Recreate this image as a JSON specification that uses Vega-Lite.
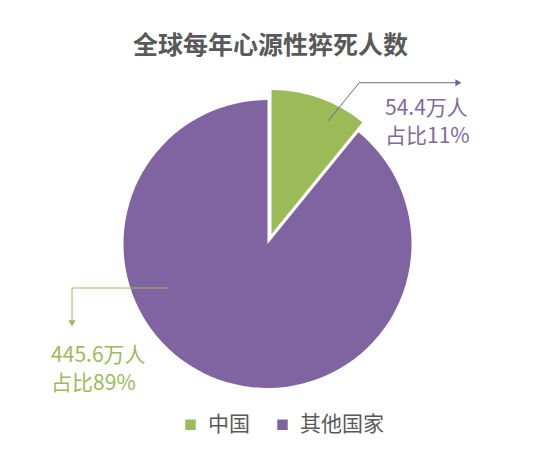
{
  "$schema": "https://vega.github.io/schema/vega-lite/v6.json",
  "width": 535,
  "height": 432,
  "autosize": {"type": "none"},
  "padding": {"top": 28, "left": 0, "right": 0, "bottom": 0},
  "background": "white",
  "title": {
    "text": "全球每年心源性猝死人数",
    "font": "Noto Sans CJK SC",
    "fontSize": 25,
    "fontWeight": "bold",
    "color": "#595959",
    "anchor": "middle",
    "dx": 3,
    "offset": -31
  },
  "config": {"view": {"stroke": null}, "font": "Noto Sans CJK SC"},
  "data": {
    "values": [
      {"name": "中国", "value": 54.4},
      {"name": "其他国家", "value": 445.6}
    ]
  },
  "layer": [
    {
      "mark": {"type": "arc", "radius": 144},
      "encoding": {
        "theta": {"field": "value", "type": "quantitative", "stack": true},
        "order": {"field": "value", "sort": "ascending"},
        "color": {
          "field": "name",
          "type": "nominal",
          "scale": {"domain": ["中国", "其他国家"], "range": ["#9BBB59", "#8064A2"]},
          "legend": {
            "title": null,
            "orient": "none",
            "direction": "horizontal",
            "legendX": 180,
            "legendY": 386,
            "symbolType": "square",
            "symbolSize": 110,
            "symbolStrokeWidth": 0,
            "symbolOpacity": 1,
            "labelFont": "Noto Sans CJK SC",
            "labelFontSize": 21,
            "labelColor": "#595959",
            "labelOffset": 7,
            "columnPadding": 22
          }
        },
        "fillOpacity": {"condition": {"test": "datum.name === '中国'", "value": 0}, "value": 1}
      }
    },
    {
      "mark": {"type": "arc", "radius": 144, "xOffset": 4, "yOffset": -10},
      "encoding": {
        "theta": {"field": "value", "type": "quantitative", "stack": true},
        "order": {"field": "value", "sort": "ascending"},
        "color": {"field": "name", "type": "nominal"},
        "fillOpacity": {"condition": {"test": "datum.name === '其他国家'", "value": 0}, "value": 1}
      }
    },
    {
      "data": {"values": [{}]},
      "mark": {"type": "rule", "color": "#6E6490", "strokeWidth": 1},
      "encoding": {
        "x": {"datum": 0.422, "type": "quantitative", "scale": {"domain": [-1.858, 1.858], "nice": false, "zero": false}, "axis": null},
        "y": {"datum": 0.856, "type": "quantitative", "scale": {"domain": [-1.5, 1.5], "nice": false, "zero": false}, "axis": null},
        "x2": {"datum": 0.6375},
        "y2": {"datum": 1.12}
      }
    },
    {
      "data": {"values": [{}]},
      "mark": {"type": "rule", "color": "#6E6490", "strokeWidth": 1},
      "encoding": {
        "x": {"datum": 0.6375, "type": "quantitative", "scale": {"domain": [-1.858, 1.858], "nice": false, "zero": false}, "axis": null},
        "y": {"datum": 1.12, "type": "quantitative", "scale": {"domain": [-1.5, 1.5], "nice": false, "zero": false}, "axis": null},
        "x2": {"datum": 1.31},
        "y2": {"datum": 1.12}
      }
    },
    {
      "data": {"values": [{}]},
      "mark": {"type": "point", "shape": "triangle-right", "filled": true, "size": 50, "color": "#6E6490", "opacity": 1},
      "encoding": {
        "x": {"datum": 1.326, "type": "quantitative", "scale": {"domain": [-1.858, 1.858], "nice": false, "zero": false}, "axis": null},
        "y": {"datum": 1.12, "type": "quantitative", "scale": {"domain": [-1.5, 1.5], "nice": false, "zero": false}, "axis": null}
      }
    },
    {
      "data": {"values": [{}]},
      "mark": {"type": "rule", "color": "#9BBB59", "strokeWidth": 1},
      "encoding": {
        "x": {"datum": -0.691, "type": "quantitative", "scale": {"domain": [-1.858, 1.858], "nice": false, "zero": false}, "axis": null},
        "y": {"datum": -0.3056, "type": "quantitative", "scale": {"domain": [-1.5, 1.5], "nice": false, "zero": false}, "axis": null},
        "x2": {"datum": -1.3576},
        "y2": {"datum": -0.3056}
      }
    },
    {
      "data": {"values": [{}]},
      "mark": {"type": "rule", "color": "#9BBB59", "strokeWidth": 1},
      "encoding": {
        "x": {"datum": -1.3576, "type": "quantitative", "scale": {"domain": [-1.858, 1.858], "nice": false, "zero": false}, "axis": null},
        "y": {"datum": -0.3056, "type": "quantitative", "scale": {"domain": [-1.5, 1.5], "nice": false, "zero": false}, "axis": null},
        "x2": {"datum": -1.3576},
        "y2": {"datum": -0.53}
      }
    },
    {
      "data": {"values": [{}]},
      "mark": {"type": "point", "shape": "triangle-down", "filled": true, "size": 50, "color": "#9BBB59", "opacity": 1},
      "encoding": {
        "x": {"datum": -1.3576, "type": "quantitative", "scale": {"domain": [-1.858, 1.858], "nice": false, "zero": false}, "axis": null},
        "y": {"datum": -0.551, "type": "quantitative", "scale": {"domain": [-1.5, 1.5], "nice": false, "zero": false}, "axis": null}
      }
    },
    {
      "data": {"values": [{}]},
      "mark": {"type": "text", "text": "54.4万人", "align": "left", "baseline": "middle", "font": "Noto Sans CJK SC", "fontSize": 21, "color": "#7F6A9F"},
      "encoding": {
        "x": {"datum": 0.816, "type": "quantitative", "scale": {"domain": [-1.858, 1.858], "nice": false, "zero": false}, "axis": null},
        "y": {"datum": 0.9375, "type": "quantitative", "scale": {"domain": [-1.5, 1.5], "nice": false, "zero": false}, "axis": null}
      }
    },
    {
      "data": {"values": [{}]},
      "mark": {"type": "text", "text": "占比11%", "align": "left", "baseline": "middle", "font": "Noto Sans CJK SC", "fontSize": 21, "color": "#7F6A9F"},
      "encoding": {
        "x": {"datum": 0.816, "type": "quantitative", "scale": {"domain": [-1.858, 1.858], "nice": false, "zero": false}, "axis": null},
        "y": {"datum": 0.743, "type": "quantitative", "scale": {"domain": [-1.5, 1.5], "nice": false, "zero": false}, "axis": null}
      }
    },
    {
      "data": {"values": [{}]},
      "mark": {"type": "text", "text": "445.6万人", "align": "left", "baseline": "middle", "font": "Noto Sans CJK SC", "fontSize": 21, "color": "#9BBB59"},
      "encoding": {
        "x": {"datum": -1.503, "type": "quantitative", "scale": {"domain": [-1.858, 1.858], "nice": false, "zero": false}, "axis": null},
        "y": {"datum": -0.775, "type": "quantitative", "scale": {"domain": [-1.5, 1.5], "nice": false, "zero": false}, "axis": null}
      }
    },
    {
      "data": {"values": [{}]},
      "mark": {"type": "text", "text": "占比89%", "align": "left", "baseline": "middle", "font": "Noto Sans CJK SC", "fontSize": 21, "color": "#9BBB59"},
      "encoding": {
        "x": {"datum": -1.503, "type": "quantitative", "scale": {"domain": [-1.858, 1.858], "nice": false, "zero": false}, "axis": null},
        "y": {"datum": -0.972, "type": "quantitative", "scale": {"domain": [-1.5, 1.5], "nice": false, "zero": false}, "axis": null}
      }
    }
  ]
}
